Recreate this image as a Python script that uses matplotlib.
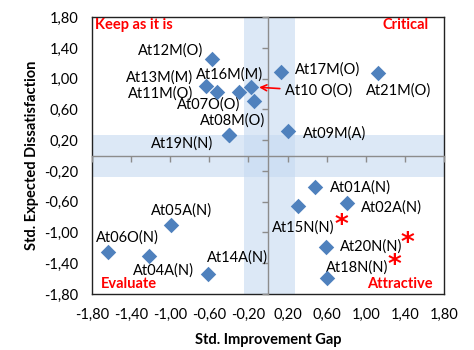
import matplotlib
matplotlib.use("Agg")
import matplotlib.pyplot as plt
import numpy as np

plt.rcParams['font.family'] = ['Lato', 'DejaVu Sans']

names = ["At12M(O)", "At13M(M)", "At11M(O)", "At16M(M)", "At10 O(O)", "At07O(O)",
         "At08M(O)", "At19N(N)", "At17M(O)", "At21M(O)", "At09M(A)",
         "At05A(N)", "At06O(N)", "At04A(N)", "At14A(N)",
         "At01A(N)", "At02A(N)", "At15N(N)", "At20N(N)", "At18N(N)"]
gap = [-0.57, -0.63, -0.52, -0.30, -0.17, -0.14,
       -0.40, -0.40, 0.13, 1.12, 0.20,
       -0.99, -1.64, -1.22, -0.61,
       0.48, 0.81, 0.31, 0.59, 0.60]
dissat = [1.26, 0.90, 0.83, 0.83, 0.89, 0.71,
          0.27, 0.27, 1.09, 1.08, 0.32,
          -0.90, -1.26, -1.31, -1.54,
          -0.41, -0.62, -0.65, -1.19, -1.59]
# label text positions (data units)
label_x = [-1.00, -1.11, -1.10, -0.39, 0.52, -0.61,
           -0.36, -0.88, 0.61, 1.33, 0.68,
           -0.88, -1.44, -1.07, -0.31,
           0.94, 1.26, 0.36, 1.05, 0.91]
label_y = [1.36, 1.02, 0.81, 1.05, 0.84, 0.66,
           0.45, 0.16, 1.12, 0.84, 0.29,
           -0.72, -1.07, -1.49, -1.33,
           -0.42, -0.68, -0.94, -1.18, -1.46]
starred = ["At15N(N)", "At20N(N)", "At18N(N)"]
star_x = [0.75, 1.42, 1.29]
star_y = [-0.84, -1.07, -1.36]

ticks = np.arange(-1.8, 1.81, 0.4)
tick_labels = [f"{t:.2f}".replace(".", ",").replace("-0,00", "0,00") for t in ticks]

fig = plt.figure(figsize=(4.74, 3.5), dpi=100)
rect = [0.194, 0.160, 0.743, 0.791]
ax = fig.add_axes(rect)
ax.set_xlim(-1.8, 1.8)
ax.set_ylim(-1.8, 1.8)

# bands
ax.axvspan(-0.25, 0.28, color='#C6D9F1', alpha=0.6, lw=0, zorder=0)
ax.axhspan(-0.28, 0.27, color='#C6D9F1', alpha=0.6, lw=0, zorder=0)

ax.set_xticks(ticks)
ax.set_yticks(ticks)
ax.set_xticklabels(tick_labels)
ax.set_yticklabels(tick_labels)
ax.tick_params(length=0, labelsize=10.5, pad=10, colors='black')
for s in ax.spines.values():
    s.set_color('#222222')
    s.set_linewidth(1.0)

ax.set_xlabel("Std. Improvement Gap", fontsize=10.5, fontweight='bold')
ax.set_ylabel("Std. Expected Dissatisfaction", fontsize=10.5, fontweight='bold')
ax.xaxis.set_label_coords(0.5, -0.141)
ax.yaxis.set_label_coords(-0.150, 0.5)

# zero axes overlay
ax2 = fig.add_axes(rect, sharex=ax, sharey=ax)
ax2.patch.set_visible(False)
ax2.spines['left'].set_position(('data', 0))
ax2.spines['bottom'].set_position(('data', 0))
ax2.spines['top'].set_visible(False)
ax2.spines['right'].set_visible(False)
for s in ('left', 'bottom'):
    ax2.spines[s].set_color('#8C8C8C')
    ax2.spines[s].set_linewidth(1.0)
ax2.tick_params(labelleft=False, labelbottom=False, direction='out', length=4,
                color='#8C8C8C', width=1.0)

ax2.scatter(gap, dissat, marker='D', s=62, color='#4F81BD', zorder=5, linewidths=0)

for n, x, y, lx, ly in zip(names, gap, dissat, label_x, label_y):
    if n == "At10 O(O)":
        ax2.annotate(n, xy=(x + 0.05, y), xytext=(lx, ly), ha='center', va='center',
                     fontsize=10.5, color='black',
                     arrowprops=dict(arrowstyle='->', color='#FF0000', lw=1.2,
                                     shrinkA=2, shrinkB=2))
    else:
        ax2.text(lx, ly, n, ha='center', va='center', fontsize=10.5, color='black')

for sx, sy in zip(star_x, star_y):
    ax2.text(sx, sy - 0.08, "*", ha='center', va='center', fontsize=19,
             color='#FF0000', fontweight='bold', family='DejaVu Sans')

ax2.text(-1.77, 1.70, "Keep as it is", color='#FF0000', fontweight='bold',
         fontsize=10.5, ha='left', va='center')
ax2.text(1.64, 1.70, "Critical", color='#FF0000', fontweight='bold',
         fontsize=10.5, ha='right', va='center')
ax2.text(-1.71, -1.67, "Evaluate", color='#FF0000', fontweight='bold',
         fontsize=10.5, ha='left', va='center')
ax2.text(1.68, -1.67, "Attractive", color='#FF0000', fontweight='bold',
         fontsize=10.5, ha='right', va='center')

fig.savefig("out.png", dpi=100)
